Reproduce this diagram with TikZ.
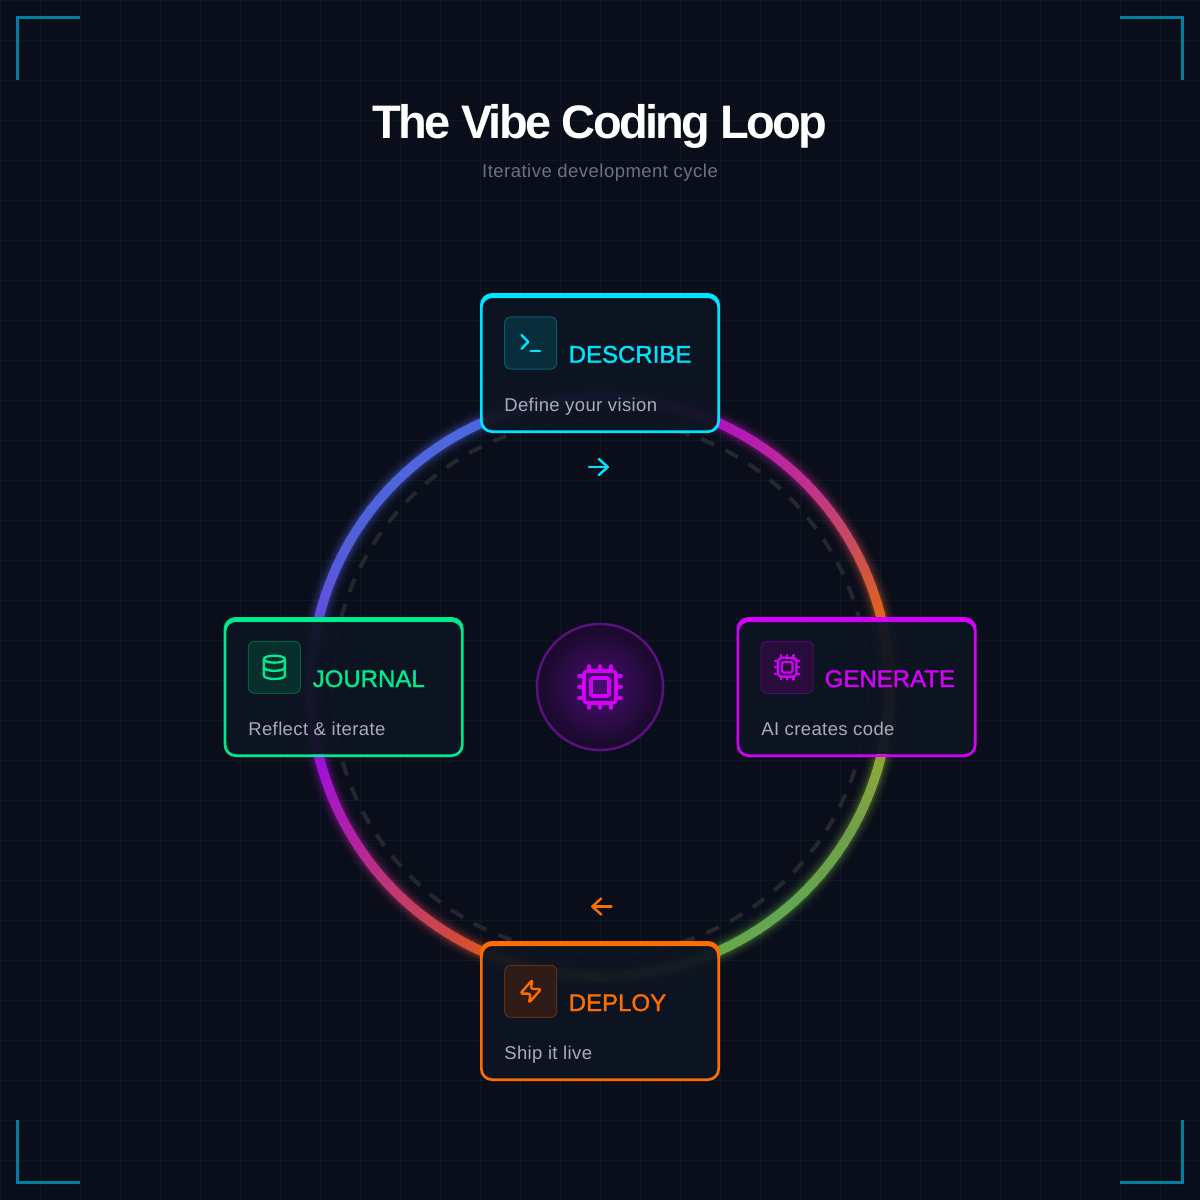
\documentclass[tikz,border=0pt]{standalone}
\usepackage{fontspec}
\usetikzlibrary{arrows.meta}
\setmainfont{Liberation Sans}
\newfontfamily\headfont[LetterSpace=-5.7]{Liberation Sans Bold}
\newfontfamily\stepfont[LetterSpace=0,FakeBold=1.5]{Liberation Sans}
\newfontfamily\notefont[LetterSpace=2.1]{Liberation Sans}
\newfontfamily\subfont[LetterSpace=2.6]{Liberation Sans}
\definecolor{bgdark}{HTML}{0A0E1A}
\definecolor{gridc}{HTML}{0B1925}
\definecolor{cornerc}{HTML}{00809E}
\definecolor{vibecyan}{HTML}{00E5FF}
\definecolor{vibemagenta}{HTML}{D500F9}
\definecolor{vibeorange}{HTML}{FF6D00}
\definecolor{vibegreen}{HTML}{00E98C}
\definecolor{cardfill}{HTML}{0E1522}
\definecolor{dashc}{HTML}{24272F}
\definecolor{notec}{HTML}{A9ADB9}
\definecolor{subc}{HTML}{6B7280}
\definecolor{hubring}{HTML}{5C1080}
\definecolor{hubin}{HTML}{4A0C72}
\definecolor{hubout}{HTML}{170A28}
\tikzset{
  gridline/.style={gridc, line width=0.012cm},
  corner/.style={cornerc, line width=0.03cm},
  cardface/.style={fill=cardfill, fill opacity=0.95, rounded corners=0.09cm, minimum width=2.34cm, minimum height=1.32cm, inner sep=0pt},
  iconbox/.style={draw=#1!35!bgdark, fill=#1!15!bgdark, line width=0.01cm, rounded corners=0.06cm, minimum size=0.52cm, inner sep=0pt},
  stepname/.style={anchor=base west, inner sep=0pt, font=\stepfont\fontsize{6.83pt}{8pt}\selectfont},
  stepnote/.style={anchor=base west, inner sep=0pt, text=notec, font=\notefont\fontsize{5.26pt}{6pt}\selectfont},
  icon/.style={line width=0.0233cm, line cap=round, line join=round},
  flow/.style={line width=0.024cm, line cap=round, -{Straight Barb[length=0.09cm, width=0.16cm, round]}},
  chipicon/.pic={
    \draw[rounded corners=0.035cm] (4,4) rectangle (20,20);
    \draw[rounded corners=0.015cm] (7.5,7.5) rectangle (16.5,16.5);
    \foreach \t in {6.5,12,17.5} {
      \draw (\t,1.5) -- (\t,4);
      \draw (\t,20) -- (\t,22.5);
      \draw (1.5,\t) -- (4,\t);
      \draw (20,\t) -- (22.5,\t);
    }
  },
  termicon/.pic={
    \draw (4,17) -- (10,11) -- (4,5);
    \draw (12,19) -- (20,19);
  },
  dbicon/.pic={
    \draw (12,5) ellipse [x radius=9, y radius=3];
    \draw (3,5) -- (3,19) .. controls (3,23) and (21,23) .. (21,19) -- (21,5);
    \draw (3,12) .. controls (3,16) and (21,16) .. (21,12);
  },
  zapicon/.pic={
    \draw[rounded corners=0.025cm] (13.6,2) -- (3,14) -- (12,14) -- (10.4,22) -- (21,10) -- (12,10) -- cycle;
  }
}
% one pass round the ring, each stop range blends two colours
\newcommand\ringarc[1]{
  \foreach \sa/\sb/\ca/\cb in {
    18/24/A815C8/B014C0, 24/45/B014C0/C02F90, 45/60/C02F90/C84A60, 60/75/C84A60/DC6420,
    75/84/DC6420/E87000, 84/105/E87000/8AA838, 105/120/8AA838/70A048, 120/140/70A048/62A650,
    140/158/62A650/6AA848, 158/200/6AA848/E06010, 200/210/E06010/D04A40, 210/225/D04A40/C03870,
    225/240/C03870/B020A8, 240/255/B020A8/A010D8, 255/262/A010D8/9A08E0, 262/285/9A08E0/6050E0,
    285/300/6050E0/5060D8, 300/320/5060D8/4F66DC, 320/342/4F66DC/4A68E0, 342/378/4A68E0/A815C8} {
    \definecolor{ca}{HTML}{\ca}
    \definecolor{cb}{HTML}{\cb}
    \foreach \k in {0,...,7} {
      \pgfmathsetmacro\aone{\sa+(\sb-\sa)*\k/8}
      \pgfmathsetmacro\atwo{\sa+(\sb-\sa)*(\k+1)/8+0.4}
      \pgfmathsetmacro\pct{100*(\k+0.5)/8}
      \draw[cb!\pct!ca, line width=#1cm] ({600+289.5*sin(\aone)},{687-289.5*cos(\aone)}) -- ({600+289.5*sin(\atwo)},{687-289.5*cos(\atwo)});
    }
  }
}
% border of a card, heavier along the top
\newcommand\cardframe[3]{
  \fill[#1, even odd rule, rounded corners=0.12cm] ({#2-120},{#3-70}) rectangle ({#2+120},{#3+70})
    [rounded corners=0.095cm] ({#2-117.3},{#3-65}) rectangle ({#2+117.3},{#3+67.3});
}
\begin{document}
\begin{tikzpicture}[x=0.01cm, y=-0.01cm]
  \useasboundingbox (0,0) rectangle (1200,1200);
  \fill[bgdark] (0,0) rectangle (1200,1200);
  % Draw the grid
  \foreach \g in {0,40,...,1200} {
    \draw[gridline] (\g+0.5,0) -- (\g+0.5,1200);
    \draw[gridline] (0,\g+0.5) -- (1200,\g+0.5);
  }
  % Draw the corners
  \draw[corner] (17.5,80) -- (17.5,17.5) -- (80,17.5);
  \draw[corner] (1120,17.5) -- (1182.5,17.5) -- (1182.5,80);
  \draw[corner] (17.5,1120) -- (17.5,1182.5) -- (80,1182.5);
  \draw[corner] (1120,1182.5) -- (1182.5,1182.5) -- (1182.5,1120);
  % Draw the heading
  \node[anchor=base, inner sep=0pt, text=white, font=\headfont\fontsize{13.37pt}{16pt}\selectfont] (heading) at (600,138) {The Vibe Coding Loop};
  \node[anchor=base, inner sep=0pt, text=subc, font=\subfont\fontsize{5.26pt}{6pt}\selectfont] (subheading) at (600,177) {Iterative development cycle};
  % Draw the ring and its glow
  \begin{scope}[transparency group, opacity=0.05]
    \ringarc{0.27}
  \end{scope}
  \begin{scope}[transparency group, opacity=0.08]
    \ringarc{0.22}
  \end{scope}
  \begin{scope}[transparency group, opacity=0.12]
    \ringarc{0.17}
  \end{scope}
  \begin{scope}[transparency group, opacity=0.18]
    \ringarc{0.13}
  \end{scope}
  \ringarc{0.095}
  % Draw the dashes
  \foreach \k in {0,...,62} {
    \pgfmathsetmacro\aone{22.2+\k*5.7143}
    \pgfmathsetmacro\atwo{\aone+3}
    \draw[dashc, line width=0.04cm] ({600+268*sin(\aone)},{687-268*cos(\aone)}) -- ({600+268*sin(\atwo)},{687-268*cos(\atwo)});
  }
  % Draw the cards
  \node[cardface] (describe) at (600,364) {};
  \cardframe{vibecyan}{600}{363}
  \node[iconbox=vibecyan] (describeicon) at (530.7,343) {};
  \pic[vibecyan, icon, scale=1.1667] at (516.7,329) {termicon};
  \node[stepname, text=vibecyan] (describename) at (568,362.7) {DESCRIBE};
  \node[stepnote] (describenote) at (503.6,411) {Define your vision};

  \node[cardface] (generate) at (856.5,688) {};
  \cardframe{vibemagenta}{856.5}{687}
  \node[iconbox=vibemagenta] (generateicon) at (787.2,667.3) {};
  \pic[vibemagenta, icon, scale=1.1667] at (773.2,653.3) {chipicon};
  \node[stepname, text=vibemagenta] (generatename) at (824,687) {GENERATE};
  \node[stepnote] (generatenote) at (760.6,735) {AI creates code};

  \node[cardface] (deploy) at (600,1012) {};
  \cardframe{vibeorange}{600}{1011}
  \node[iconbox=vibeorange] (deployicon) at (530.7,991.3) {};
  \pic[vibeorange, icon, scale=1.1667] at (516.7,977.3) {zapicon};
  \node[stepname, text=vibeorange] (deployname) at (568,1011) {DEPLOY};
  \node[stepnote] (deploynote) at (503.6,1059) {Ship it live};

  \node[cardface] (journal) at (343.7,688) {};
  \cardframe{vibegreen}{343.7}{687}
  \node[iconbox=vibegreen] (journalicon) at (274.4,667.3) {};
  \pic[vibegreen, icon, scale=1.1667] at (260.4,653.3) {dbicon};
  \node[stepname, text=vibegreen] (journalname) at (312,687) {JOURNAL};
  \node[stepnote] (journalnote) at (247.6,735) {Reflect \& iterate};
  % Draw the small arrows
  \coordinate (nextfrom) at (589,467);
  \coordinate (nextto) at (609,467);
  \draw[flow, vibecyan] (nextfrom) -- (nextto);
  \coordinate (backfrom) at (611.5,906.5);
  \coordinate (backto) at (591,906.5);
  \draw[flow, vibeorange] (backfrom) -- (backto);
  % Draw the hub
  \node[circle, draw=hubring, line width=0.025cm, inner color=hubin, outer color=hubout, minimum size=1.26cm, inner sep=0pt] (hub) at (600,687) {};
  \pic[vibemagenta, line width=0.036cm, line cap=round, line join=round, scale=2] at (576,663) {chipicon};
\end{tikzpicture}
\end{document}
